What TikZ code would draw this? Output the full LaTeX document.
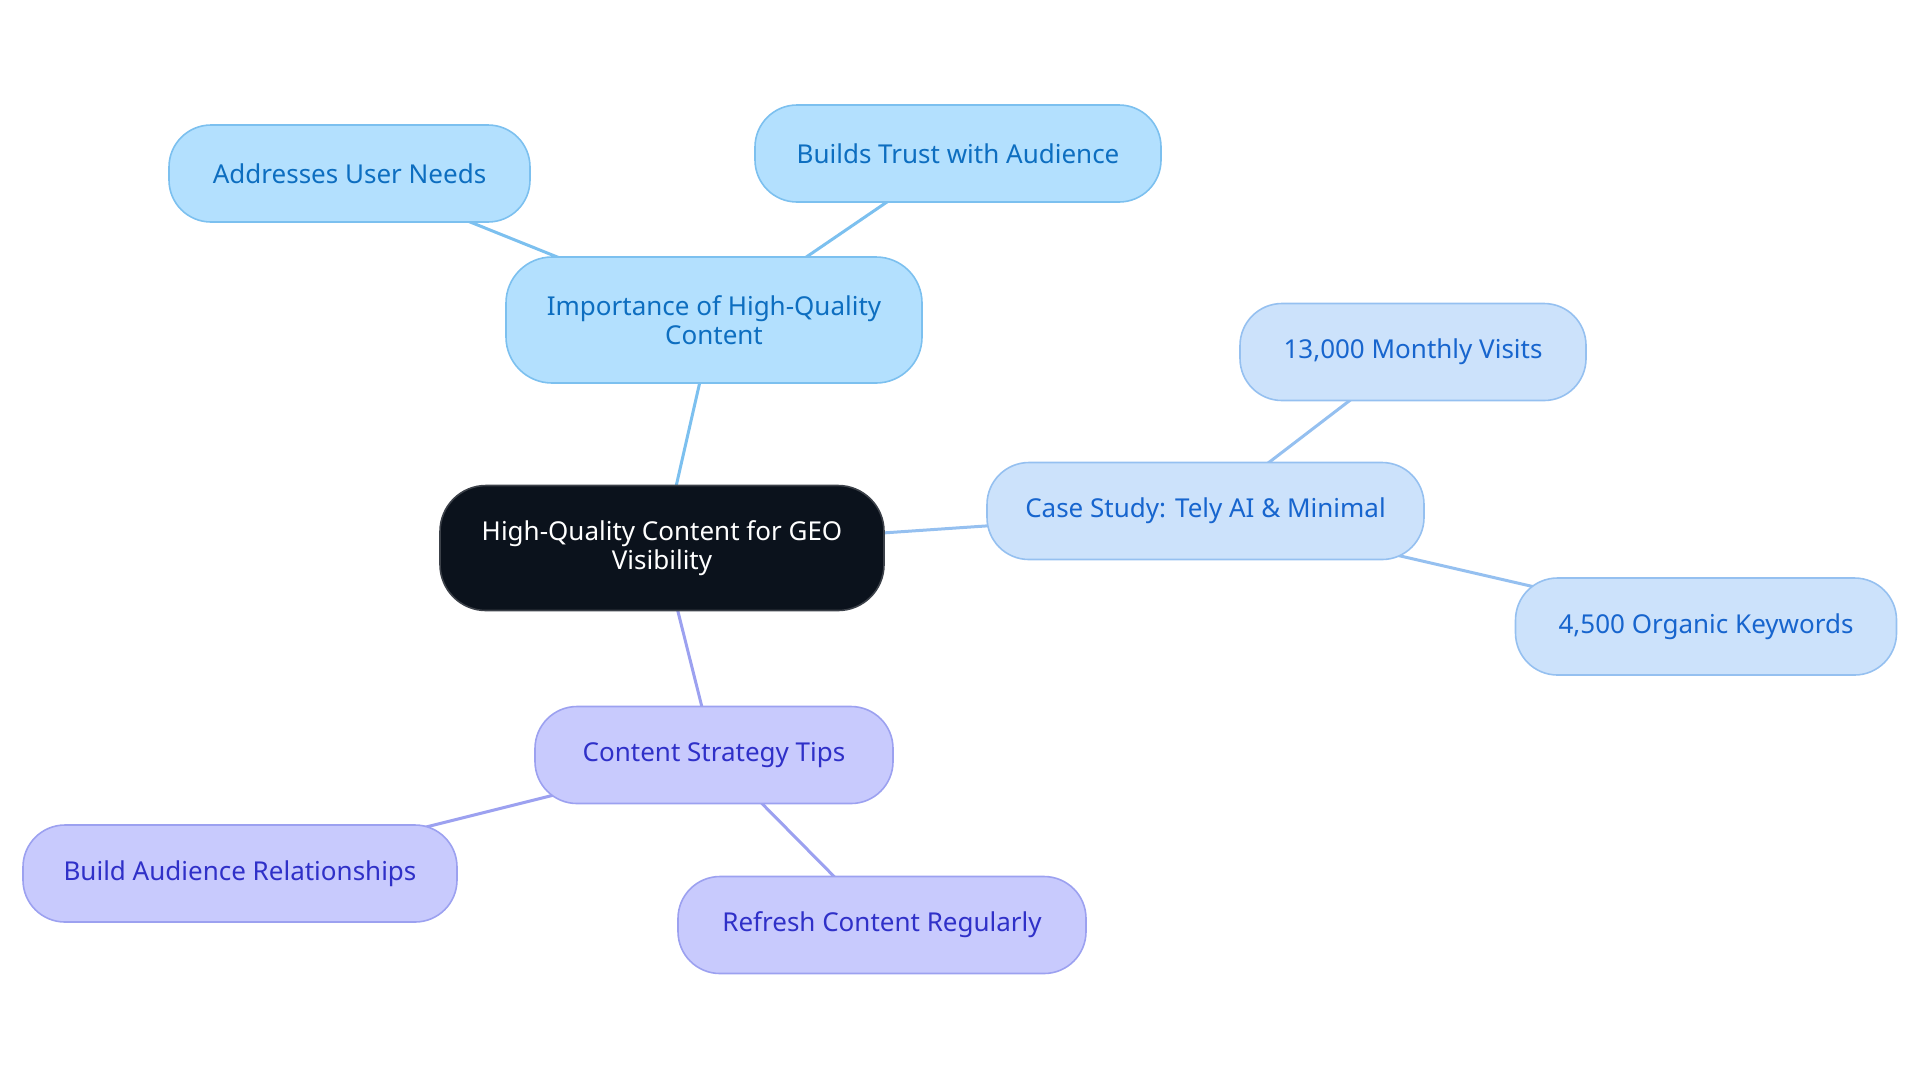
\documentclass[tikz,border=0pt]{standalone}
\usepackage{fontspec}
\setmainfont{Noto Sans}
\usetikzlibrary{positioning, backgrounds}
\definecolor{geoDark}{HTML}{0B121C}
\definecolor{skyFill}{HTML}{B3E0FE}
\definecolor{skyLine}{HTML}{7CC0EF}
\definecolor{skyText}{HTML}{0D6EC0}
\definecolor{paleFill}{HTML}{CCE2FB}
\definecolor{paleLine}{HTML}{95C0F0}
\definecolor{paleText}{HTML}{1765CE}
\definecolor{violFill}{HTML}{C8CAFD}
\definecolor{violLine}{HTML}{9CA1F0}
\definecolor{violText}{HTML}{2F30C8}
\tikzset{
  rootbox/.style={draw=geoDark!80, fill=geoDark, text=white, rounded corners=23pt, line width=0.8pt,
    align=center, font=\fontsize{13}{14.6}\selectfont, minimum height=62.5pt},
  skybox/.style={draw=skyLine, fill=skyFill, text=skyText, line width=0.8pt, align=center,
    font=\fontsize{13}{14.6}\selectfont, minimum height=48.5pt, rounded corners=21pt},
  palebox/.style={skybox, draw=paleLine, fill=paleFill, text=paleText},
  violbox/.style={skybox, draw=violLine, fill=violFill, text=violText},
  branchline/.style={line width=1.5pt},
}
\begin{document}
\begin{tikzpicture}[x=0.5pt, y=-0.5pt]
  \useasboundingbox (0,0) rectangle (1920,1083);
  % root
  \node[rootbox, minimum width=222pt] (root) at (662,548) {High-Quality Content for GEO\\Visibility};
  % quality branch
  \node[skybox, minimum width=208pt, minimum height=63pt, rounded corners=23pt] (quality) at (714,320) {Importance of High-Quality\\Content};
  \node[skybox, minimum width=180.5pt] (needs) at (349.5,173.5) {Addresses User Needs};
  \node[skybox, minimum width=203pt] (trust) at (958,153.5) {Builds Trust with Audience};
  % case study branch
  \node[palebox, minimum width=218.5pt] (casestudy) at (1205.5,511) {Case Study: Tely AI \& Minimal};
  \node[palebox, minimum width=173pt] (visits) at (1413,352) {13,000 Monthly Visits};
  \node[palebox, minimum width=190.5pt] (keywords) at (1706,626.5) {4,500 Organic Keywords};
  % strategy branch
  \node[violbox, minimum width=179pt] (strategy) at (714,755) {Content Strategy Tips};
  \node[violbox, minimum width=217pt] (relations) at (240,873.5) {Build Audience Relationships};
  \node[violbox, minimum width=204pt] (refresh) at (882,925) {Refresh Content Regularly};

  \begin{scope}[on background layer]
    \draw[branchline, skyLine] (root.center) -- (quality.center);
    \draw[branchline, skyLine] (quality.center) -- (needs.center);
    \draw[branchline, skyLine] (quality.center) -- (trust.center);
    \draw[branchline, paleLine] (root.center) -- (casestudy.center);
    \draw[branchline, paleLine] (casestudy.center) -- (visits.center);
    \draw[branchline, paleLine] (casestudy.center) -- (keywords.center);
    \draw[branchline, violLine] (root.center) -- (strategy.center);
    \draw[branchline, violLine] (strategy.center) -- (relations.center);
    \draw[branchline, violLine] (strategy.center) -- (refresh.center);
  \end{scope}
\end{tikzpicture}
\end{document}
